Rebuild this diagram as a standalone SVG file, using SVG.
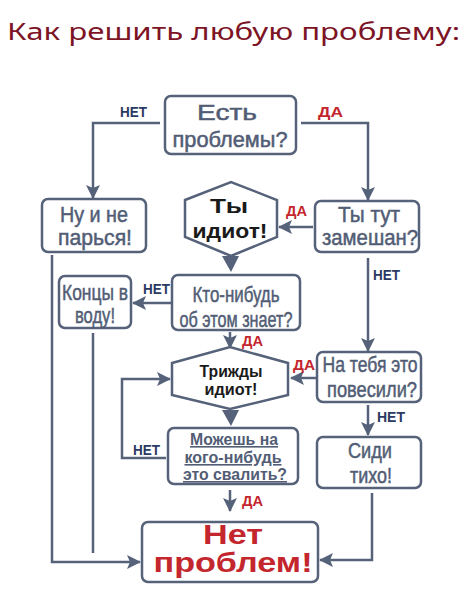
<svg xmlns="http://www.w3.org/2000/svg" width="467" height="604" viewBox="0 0 467 604">
<defs>
<marker id="arr" markerUnits="userSpaceOnUse" markerWidth="14" markerHeight="14" refX="13" refY="7" orient="auto">
<path d="M0,0 L14,7 L0,14 L3,7 z" fill="#56627a"/>
</marker>
<style>
.box{fill:#fff;stroke:#56627a;stroke-width:2.5}
.hex{fill:#fff;stroke:#56627a;stroke-width:2.5;stroke-linejoin:miter}
.con{fill:none;stroke:#56627a;stroke-width:2.5}
.t{font-family:"Liberation Sans",Arial,sans-serif;font-size:22px;fill:#525d75;stroke:#525d75;stroke-width:0.5;text-anchor:middle}
.tb{font-family:"Liberation Sans",Arial,sans-serif;font-weight:bold;fill:#1a1a1a;text-anchor:middle}
.ts{font-family:"Liberation Sans",Arial,sans-serif;font-weight:bold;font-size:16px;fill:#525d75;text-anchor:middle;text-decoration:underline}
.no{font-family:"Liberation Sans",Arial,sans-serif;font-weight:bold;font-size:15px;fill:#2b3a63}
.yes{font-family:"Liberation Sans",Arial,sans-serif;font-weight:bold;font-size:15px;fill:#c4262e}
.big{font-family:"Liberation Sans",Arial,sans-serif;font-weight:bold;font-size:28px;fill:#c4262e;text-anchor:middle}
.title{font-family:"Noto Sans","Liberation Sans",sans-serif;font-size:24px;fill:#7d1426}
</style>
</defs>
<rect width="467" height="604" fill="#fff"/>
<text class="title" x="7" y="40" textLength="453" lengthAdjust="spacingAndGlyphs">Как решить любую проблему:</text>

<g id="connectors">
<path class="con" d="M160,123 H93 V198" marker-end="url(#arr)"/>
<path class="con" d="M301,123 H368 V200" marker-end="url(#arr)"/>
<path class="con" d="M313,227 H279" marker-end="url(#arr)"/>
<path class="con" d="M368,258 V351" marker-end="url(#arr)"/>
<path d="M222,256 L239,256 L231,272 z" fill="#56627a"/>
<path class="con" d="M171,303 H133" marker-end="url(#arr)"/>
<path class="con" d="M230,332 V348" marker-end="url(#arr)"/>
<path class="con" d="M52,255 V562 H140" marker-end="url(#arr)"/>
<path class="con" d="M93,333 V553"/>
<path class="con" d="M317,378 H291" marker-end="url(#arr)"/>
<path d="M222,410 L239,410 L231,426 z" fill="#56627a"/>
<path class="con" d="M166,458 H122 V379 H170" marker-end="url(#arr)"/>
<path class="con" d="M368,405 V435" marker-end="url(#arr)"/>
<path class="con" d="M230,490 V511" marker-end="url(#arr)"/>
<path class="con" d="M372,493 V560 H320" marker-end="url(#arr)"/>
<text class="no" x="120" y="117" textLength="27" lengthAdjust="spacingAndGlyphs">НЕТ</text>
<text class="yes" x="318" y="117" textLength="25" lengthAdjust="spacingAndGlyphs">ДА</text>
<text class="yes" x="286" y="216" textLength="21" lengthAdjust="spacingAndGlyphs">ДА</text>
<text class="no" x="373" y="280" textLength="27" lengthAdjust="spacingAndGlyphs">НЕТ</text>
<text class="no" x="143" y="294" font-size="14" textLength="27" lengthAdjust="spacingAndGlyphs">НЕТ</text>
<text class="yes" x="242" y="346" textLength="21" lengthAdjust="spacingAndGlyphs">ДА</text>
<text class="yes" x="293" y="370" textLength="22" lengthAdjust="spacingAndGlyphs">ДА</text>
<text class="no" x="377" y="422" textLength="28" lengthAdjust="spacingAndGlyphs">НЕТ</text>
<text class="no" x="133" y="455" textLength="27" lengthAdjust="spacingAndGlyphs">НЕТ</text>
<text class="yes" x="242" y="506" textLength="21" lengthAdjust="spacingAndGlyphs">ДА</text>
</g>

<g id="n-est">
<rect class="box" x="165" y="96" width="131" height="58" rx="6"/>
<text class="t" x="227" y="120" font-size="24" textLength="60" lengthAdjust="spacingAndGlyphs">Есть</text>
<text class="t" x="230" y="147" font-size="24" textLength="115" lengthAdjust="spacingAndGlyphs">проблемы?</text>
</g>

<g id="n-nu">
<rect class="box" x="42" y="199" width="104" height="53" rx="6"/>
<text class="t" x="94" y="222" textLength="68" lengthAdjust="spacingAndGlyphs">Ну и не</text>
<text class="t" x="95" y="245" textLength="74" lengthAdjust="spacingAndGlyphs">парься!</text>
</g>

<g id="n-idiot">
<polygon class="hex" points="185,200 231,182 277,200 277,237 231,256 185,237"/>
<text class="tb" x="229" y="213" font-size="21" textLength="38" lengthAdjust="spacingAndGlyphs">Ты</text>
<text class="tb" x="230" y="238" font-size="21" textLength="75" lengthAdjust="spacingAndGlyphs">идиот!</text>
</g>

<g id="n-tut">
<rect class="box" x="315" y="201" width="104" height="51" rx="6"/>
<text class="t" x="369" y="222" textLength="62" lengthAdjust="spacingAndGlyphs">Ты тут</text>
<text class="t" x="370" y="245" textLength="96" lengthAdjust="spacingAndGlyphs">замешан?</text>
</g>

<g id="n-koncy">
<rect class="box" x="59" y="276" width="72" height="52" rx="6"/>
<text class="t" x="95" y="300" font-size="19" textLength="66" lengthAdjust="spacingAndGlyphs">Концы в</text>
<text class="t" x="95" y="323" font-size="20" textLength="40" lengthAdjust="spacingAndGlyphs">воду!</text>
</g>

<g id="n-kto">
<rect class="box" x="172" y="275" width="128" height="55" rx="6"/>
<text class="t" x="236" y="302" textLength="87" lengthAdjust="spacingAndGlyphs">Кто-нибудь</text>
<text class="t" x="236" y="327" textLength="113" lengthAdjust="spacingAndGlyphs">об этом знает?</text>
</g>

<g id="n-trizhdy">
<polygon class="hex" points="172,363 230,347 288,363 288,395 230,409 172,395"/>
<text class="tb" x="231" y="377" font-size="16" textLength="63" lengthAdjust="spacingAndGlyphs">Трижды</text>
<text class="tb" x="231" y="395" font-size="16" textLength="53" lengthAdjust="spacingAndGlyphs">идиот!</text>
</g>

<g id="n-povesili">
<rect class="box" x="317" y="352" width="104" height="50" rx="6"/>
<text class="t" x="370" y="372" textLength="95" lengthAdjust="spacingAndGlyphs">На тебя это</text>
<text class="t" x="372" y="397" textLength="90" lengthAdjust="spacingAndGlyphs">повесили?</text>
</g>

<g id="n-mozhesh">
<rect class="box" x="168" y="428" width="130" height="56" rx="6"/>
<text class="ts" x="234" y="445" textLength="88" lengthAdjust="spacingAndGlyphs">Можешь на</text>
<text class="ts" x="233" y="463" textLength="97" lengthAdjust="spacingAndGlyphs">кого-нибудь</text>
<text class="ts" x="235" y="480" textLength="104" lengthAdjust="spacingAndGlyphs">это свалить?</text>
</g>

<g id="n-sidi">
<rect class="box" x="317" y="437" width="104" height="51" rx="6"/>
<text class="t" x="370" y="458" textLength="44" lengthAdjust="spacingAndGlyphs">Сиди</text>
<text class="t" x="371" y="483" textLength="42" lengthAdjust="spacingAndGlyphs">тихо!</text>
</g>

<g id="n-net">
<rect class="box" x="142" y="522" width="176" height="60" rx="6"/>
<text class="big" x="233" y="544" textLength="60" lengthAdjust="spacingAndGlyphs">Нет</text>
<text class="big" x="233" y="572" textLength="159" lengthAdjust="spacingAndGlyphs">проблем!</text>
</g>
</svg>
